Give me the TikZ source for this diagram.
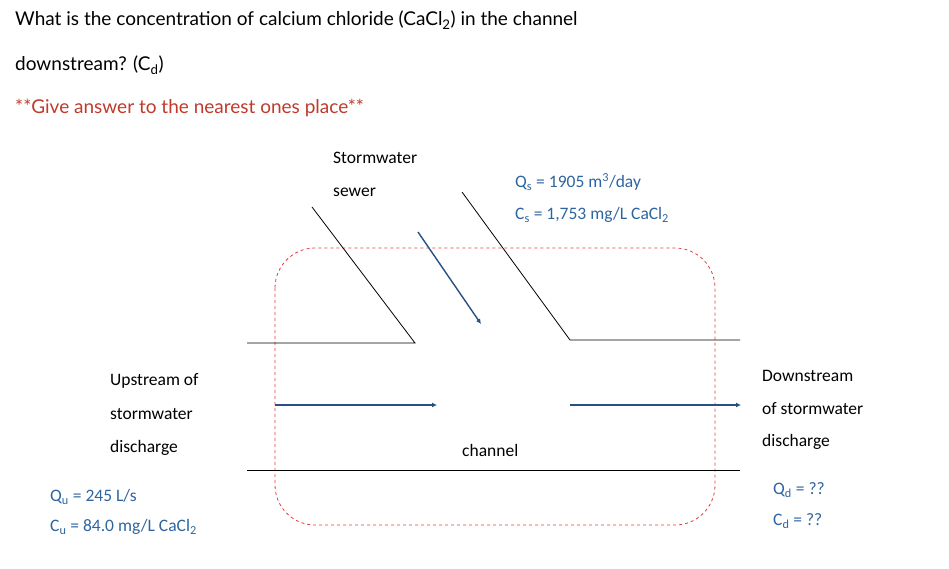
\documentclass[tikz,border=0pt]{standalone}
\usepackage{fontspec}
\usetikzlibrary{arrows.meta}
\setmainfont{Lato}
\newfontfamily\carlitofont{Carlito}
\definecolor{qred}{RGB}{192,57,43}
\definecolor{qblue}{RGB}{46,100,160}
\definecolor{dred}{RGB}{230,60,60}
\definecolor{arr}{RGB}{40,80,130}
\newcommand{\sbs}[1]{\textsubscript{#1}}
\newcommand{\sps}[1]{\textsuperscript{#1}}
\begin{document}
\begin{tikzpicture}[x=1pt,y=-1pt,
  ttl/.style={anchor=west,inner sep=0,font=\fontsize{19}{19}\selectfont},
  lbl/.style={anchor=west,inner sep=0,font=\carlitofont\fontsize{17.5}{17.5}\selectfont},
  val/.style={lbl,text=qblue},
  bank/.style={line width=0.8pt},
  flow/.style={arr,line width=1.4pt,-{Latex[length=5pt,width=5pt]}}]
\useasboundingbox (0,0) rectangle (949,568);
\node[ttl] (t1) at (15,20) {What is the concentration of calcium chloride (CaCl\sbs{2}) in the channel};
\node[ttl] (t2) at (15,65) {downstream? (C\sbs{d})};
\node[ttl,text=qred] (t3) at (15,108) {**Give answer to the nearest ones place**};
\node[lbl] (sw1) at (333,158) {Stormwater};
\node[lbl] (sw2) at (333,192) {sewer};
\node[val] (qs) at (515,182) {Q\sbs{s} = 1905 m\sps{3}/day};
\node[val] (cs) at (515,215) {C\sbs{s} = 1,753 mg/L CaCl\sbs{2}};
\draw[dred,dashed,line width=0.8pt,rounded corners=40] (275,248) rectangle (715,525);
\coordinate (l1) at (312,207); \coordinate (l2) at (415,343); \coordinate (l3) at (247,343);
\draw[bank] (l1) -- (l2) -- (l3);
\coordinate (r1) at (462,192); \coordinate (r2) at (570,340); \coordinate (r3) at (740,340);
\draw[bank] (r1) -- (r2) -- (r3);
\coordinate (b1) at (247,470); \coordinate (b2) at (740,470);
\draw[bank] (b1) -- (b2);
\coordinate (s1) at (418,232); \coordinate (s2) at (481,324);
\draw[flow] (s1) -- (s2);
\coordinate (f1) at (275,405); \coordinate (f2) at (437,405);
\coordinate (f3) at (570,405); \coordinate (f4) at (741,405);
\draw[flow] (f1) -- (f2);
\draw[flow] (f3) -- (f4);
\node[lbl] (u1) at (110,381) {Upstream of};
\node[lbl] (u2) at (110,414) {stormwater};
\node[lbl] (u3) at (110,448) {discharge};
\node[lbl] (ch) at (462,450) {channel};
\node[lbl] (d1) at (762,376) {Downstream};
\node[lbl] (d2) at (762,409) {of stormwater};
\node[lbl] (d3) at (762,442) {discharge};
\node[val] (qu) at (50,497) {Q\sbs{u} = 245 L/s};
\node[val] (cu) at (50,527) {C\sbs{u} = 84.0 mg/L CaCl\sbs{2}};
\node[val] (qd) at (773,490) {Q\sbs{d} = ??};
\node[val] (cd) at (773,521) {C\sbs{d} = ??};
\end{tikzpicture}
\end{document}
